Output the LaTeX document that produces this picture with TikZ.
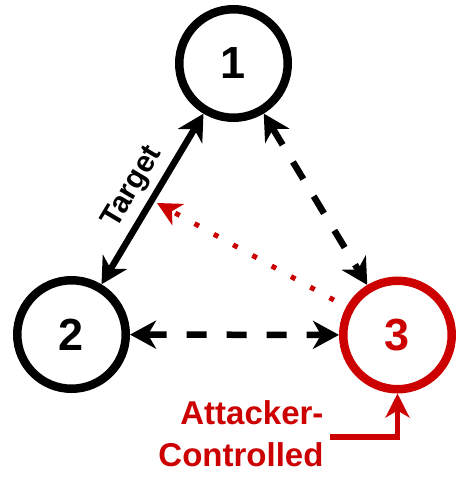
\documentclass[tikz,border=0pt]{standalone}
\usepackage{fontspec}
\setmainfont{Liberation Sans}
\usetikzlibrary{arrows.meta}
\definecolor{accred}{HTML}{CC0000}
\tikzset{
  bigtip/.tip={Stealth[length=26pt,width=28pt,inset=8pt]},
  redtip/.tip={Stealth[length=24pt,width=24pt,inset=7pt]}
}
\begin{document}
\begin{tikzpicture}[x=1pt,y=-1pt,
  peer/.style={circle,draw,line width=8.5pt,minimum size=108.5pt,inner sep=0pt,font=\bfseries\fontsize{45}{45}\selectfont},
  link/.style={line width=6.5pt,{bigtip}-{bigtip}},
  dashlink/.style={link,dash pattern=on 20pt off 20pt},
  lbl/.style={font=\bfseries\fontsize{33}{42}\selectfont,text=accred,align=right}]
\useasboundingbox (0,0) rectangle (474,485);
\node[peer] (n1) at (233.5,63.5) {1};
\node[peer] (n2) at (71.5,334.5) {2};
\node[peer,draw=accred,text=accred] (n3) at (397.5,335) {3};
% Target edge
\draw[link] (n2) -- node[sloped,above=4pt,pos=0.5,inner sep=2pt,font=\bfseries\fontsize{30}{30}\selectfont]{Target} (n1);
% dashed edges
\draw[dashlink] (n1) -- (n3);
\draw[dashlink] (n2) -- (n3);
% red dotted attack
\coordinate (atk) at (157,203);
\draw[accred,line width=5pt,dash pattern=on 5pt off 17pt,shorten <=14pt,-{redtip}] (n3) -- (atk);
% attacker label
\node[lbl,anchor=east] (lab) at (327,434) {Attacker-\\Controlled};
\coordinate (lend) at (330,437);
\draw[accred,line width=5.5pt,-{redtip}] (lend) -| (n3.south);
\end{tikzpicture}
\end{document}
